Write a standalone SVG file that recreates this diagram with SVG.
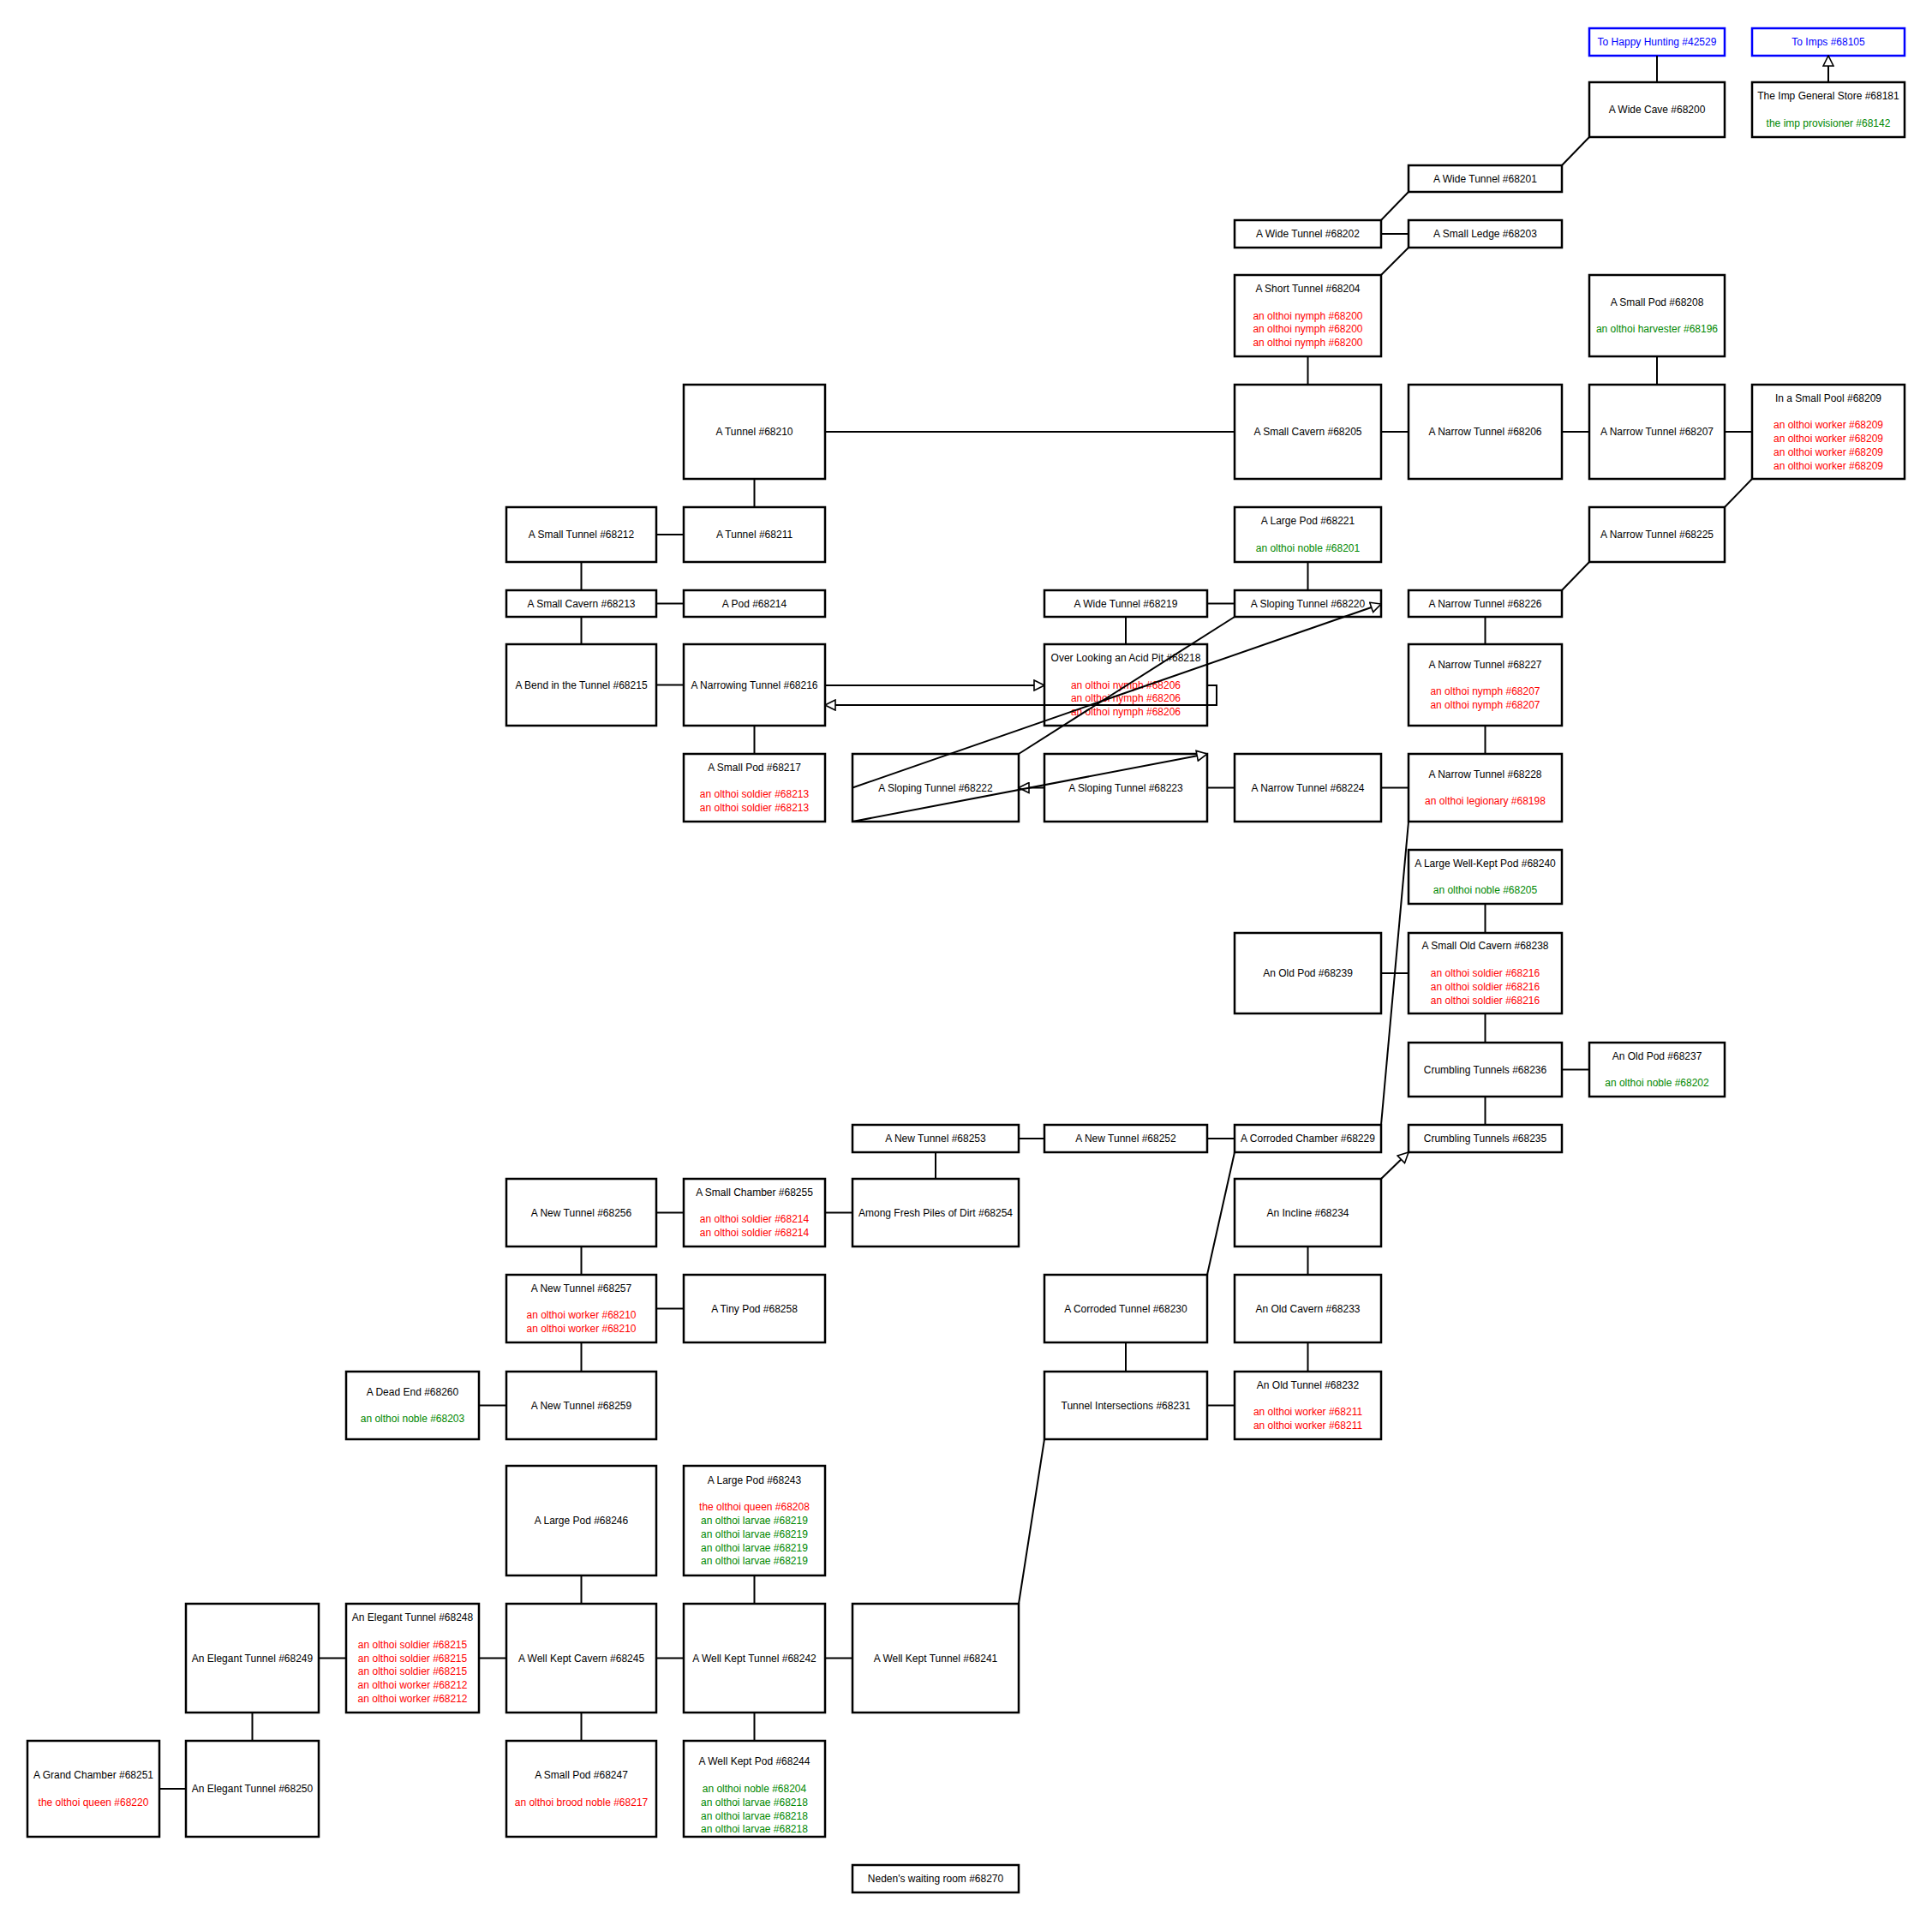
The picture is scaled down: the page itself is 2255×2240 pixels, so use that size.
<svg xmlns="http://www.w3.org/2000/svg" width="2255" height="2240" viewBox="0 0 2255 2240">
<style>
rect{fill:#fff;stroke:#000;stroke-width:2.5}
.b rect{stroke:#00f}
text{font-family:"Liberation Sans",Arial,sans-serif;font-size:12px;text-anchor:middle;dominant-baseline:central;fill:#000}
.b text{fill:#00f}
.r{fill:#f00}
.g{fill:#080}
#conn path{fill:none;stroke:#000;stroke-width:2}
</style>
<defs>
<marker id="a" markerWidth="14" markerHeight="14" refX="13" refY="7" orient="auto" markerUnits="userSpaceOnUse"><path d="M1,1 L13,7 L1,13 Z" fill="#fff" stroke="#000" stroke-width="1.6"/></marker>
</defs>
<rect x="0" y="0" width="2255" height="2240" style="stroke:none"/>
<g id="n42529" class="b"><rect x="1855" y="33" width="158" height="32"/><text x="1934" y="49">To Happy Hunting #42529</text></g>
<g id="n68105" class="b"><rect x="2045" y="33" width="178" height="32"/><text x="2134" y="49">To Imps #68105</text></g>
<g id="n68200"><rect x="1855" y="96" width="158" height="64"/><text x="1934" y="128">A Wide Cave #68200</text></g>
<g id="n68181"><rect x="2045" y="96" width="178" height="64"/><text x="2134" y="112.2">The Imp General Store #68181</text><text class="g" x="2134" y="143.8">the imp provisioner #68142</text></g>
<g id="n68201"><rect x="1644" y="193" width="179" height="31"/><text x="1733.5" y="208.5">A Wide Tunnel #68201</text></g>
<g id="n68202"><rect x="1441" y="257" width="171" height="32"/><text x="1526.5" y="273">A Wide Tunnel #68202</text></g>
<g id="n68203"><rect x="1644" y="257" width="179" height="32"/><text x="1733.5" y="273">A Small Ledge #68203</text></g>
<g id="n68204"><rect x="1441" y="321" width="171" height="95"/><text x="1526.5" y="336.9">A Short Tunnel #68204</text><text class="r" x="1526.5" y="368.5">an olthoi nymph #68200</text><text class="r" x="1526.5" y="384.3">an olthoi nymph #68200</text><text class="r" x="1526.5" y="400.1">an olthoi nymph #68200</text></g>
<g id="n68208"><rect x="1855" y="321" width="158" height="95"/><text x="1934" y="352.7">A Small Pod #68208</text><text class="g" x="1934" y="384.3">an olthoi harvester #68196</text></g>
<g id="n68210"><rect x="798" y="449" width="165" height="110"/><text x="880.5" y="504">A Tunnel #68210</text></g>
<g id="n68205"><rect x="1441" y="449" width="171" height="110"/><text x="1526.5" y="504">A Small Cavern #68205</text></g>
<g id="n68206"><rect x="1644" y="449" width="179" height="110"/><text x="1733.5" y="504">A Narrow Tunnel #68206</text></g>
<g id="n68207"><rect x="1855" y="449" width="158" height="110"/><text x="1934" y="504">A Narrow Tunnel #68207</text></g>
<g id="n68209"><rect x="2045" y="449" width="178" height="110"/><text x="2134" y="464.5">In a Small Pool #68209</text><text class="r" x="2134" y="496.1">an olthoi worker #68209</text><text class="r" x="2134" y="511.9">an olthoi worker #68209</text><text class="r" x="2134" y="527.7">an olthoi worker #68209</text><text class="r" x="2134" y="543.5">an olthoi worker #68209</text></g>
<g id="n68212"><rect x="591" y="592" width="175" height="64"/><text x="678.5" y="624">A Small Tunnel #68212</text></g>
<g id="n68211"><rect x="798" y="592" width="165" height="64"/><text x="880.5" y="624">A Tunnel #68211</text></g>
<g id="n68221"><rect x="1441" y="592" width="171" height="64"/><text x="1526.5" y="608.2">A Large Pod #68221</text><text class="g" x="1526.5" y="639.8">an olthoi noble #68201</text></g>
<g id="n68225"><rect x="1855" y="592" width="158" height="64"/><text x="1934" y="624">A Narrow Tunnel #68225</text></g>
<g id="n68213"><rect x="591" y="689" width="175" height="31"/><text x="678.5" y="704.5">A Small Cavern #68213</text></g>
<g id="n68214"><rect x="798" y="689" width="165" height="31"/><text x="880.5" y="704.5">A Pod #68214</text></g>
<g id="n68219"><rect x="1219" y="689" width="190" height="31"/><text x="1314" y="704.5">A Wide Tunnel #68219</text></g>
<g id="n68220"><rect x="1441" y="689" width="171" height="31"/><text x="1526.5" y="704.5">A Sloping Tunnel #68220</text></g>
<g id="n68226"><rect x="1644" y="689" width="179" height="31"/><text x="1733.5" y="704.5">A Narrow Tunnel #68226</text></g>
<g id="n68215"><rect x="591" y="752" width="175" height="95"/><text x="678.5" y="799.5">A Bend in the Tunnel #68215</text></g>
<g id="n68216"><rect x="798" y="752" width="165" height="95"/><text x="880.5" y="799.5">A Narrowing Tunnel #68216</text></g>
<g id="n68218"><rect x="1219" y="752" width="190" height="95"/><text x="1314" y="767.9">Over Looking an Acid Pit #68218</text><text class="r" x="1314" y="799.5">an olthoi nymph #68206</text><text class="r" x="1314" y="815.3">an olthoi nymph #68206</text><text class="r" x="1314" y="831.1">an olthoi nymph #68206</text></g>
<g id="n68227"><rect x="1644" y="752" width="179" height="95"/><text x="1733.5" y="775.8">A Narrow Tunnel #68227</text><text class="r" x="1733.5" y="807.4">an olthoi nymph #68207</text><text class="r" x="1733.5" y="823.2">an olthoi nymph #68207</text></g>
<g id="n68217"><rect x="798" y="880" width="165" height="79"/><text x="880.5" y="895.8">A Small Pod #68217</text><text class="r" x="880.5" y="927.4">an olthoi soldier #68213</text><text class="r" x="880.5" y="943.2">an olthoi soldier #68213</text></g>
<g id="n68222"><rect x="995" y="880" width="194" height="79"/><text x="1092" y="919.5">A Sloping Tunnel #68222</text></g>
<g id="n68223"><rect x="1219" y="880" width="190" height="79"/><text x="1314" y="919.5">A Sloping Tunnel #68223</text></g>
<g id="n68224"><rect x="1441" y="880" width="171" height="79"/><text x="1526.5" y="919.5">A Narrow Tunnel #68224</text></g>
<g id="n68228"><rect x="1644" y="880" width="179" height="79"/><text x="1733.5" y="903.7">A Narrow Tunnel #68228</text><text class="r" x="1733.5" y="935.3">an olthoi legionary #68198</text></g>
<g id="n68240"><rect x="1644" y="992" width="179" height="63"/><text x="1733.5" y="1007.7">A Large Well-Kept Pod #68240</text><text class="g" x="1733.5" y="1039.3">an olthoi noble #68205</text></g>
<g id="n68239"><rect x="1441" y="1089" width="171" height="94"/><text x="1526.5" y="1136">An Old Pod #68239</text></g>
<g id="n68238"><rect x="1644" y="1089" width="179" height="94"/><text x="1733.5" y="1104.4">A Small Old Cavern #68238</text><text class="r" x="1733.5" y="1136">an olthoi soldier #68216</text><text class="r" x="1733.5" y="1151.8">an olthoi soldier #68216</text><text class="r" x="1733.5" y="1167.6">an olthoi soldier #68216</text></g>
<g id="n68236"><rect x="1644" y="1217" width="179" height="63"/><text x="1733.5" y="1248.5">Crumbling Tunnels #68236</text></g>
<g id="n68237"><rect x="1855" y="1217" width="158" height="63"/><text x="1934" y="1232.7">An Old Pod #68237</text><text class="g" x="1934" y="1264.3">an olthoi noble #68202</text></g>
<g id="n68253"><rect x="995" y="1313" width="194" height="32"/><text x="1092" y="1329">A New Tunnel #68253</text></g>
<g id="n68252"><rect x="1219" y="1313" width="190" height="32"/><text x="1314" y="1329">A New Tunnel #68252</text></g>
<g id="n68229"><rect x="1441" y="1313" width="171" height="32"/><text x="1526.5" y="1329">A Corroded Chamber #68229</text></g>
<g id="n68235"><rect x="1644" y="1313" width="179" height="32"/><text x="1733.5" y="1329">Crumbling Tunnels #68235</text></g>
<g id="n68256"><rect x="591" y="1376" width="175" height="79"/><text x="678.5" y="1415.5">A New Tunnel #68256</text></g>
<g id="n68255"><rect x="798" y="1376" width="165" height="79"/><text x="880.5" y="1391.8">A Small Chamber #68255</text><text class="r" x="880.5" y="1423.4">an olthoi soldier #68214</text><text class="r" x="880.5" y="1439.2">an olthoi soldier #68214</text></g>
<g id="n68254"><rect x="995" y="1376" width="194" height="79"/><text x="1092" y="1415.5">Among Fresh Piles of Dirt #68254</text></g>
<g id="n68234"><rect x="1441" y="1376" width="171" height="79"/><text x="1526.5" y="1415.5">An Incline #68234</text></g>
<g id="n68257"><rect x="591" y="1488" width="175" height="79"/><text x="678.5" y="1503.8">A New Tunnel #68257</text><text class="r" x="678.5" y="1535.4">an olthoi worker #68210</text><text class="r" x="678.5" y="1551.2">an olthoi worker #68210</text></g>
<g id="n68258"><rect x="798" y="1488" width="165" height="79"/><text x="880.5" y="1527.5">A Tiny Pod #68258</text></g>
<g id="n68230"><rect x="1219" y="1488" width="190" height="79"/><text x="1314" y="1527.5">A Corroded Tunnel #68230</text></g>
<g id="n68233"><rect x="1441" y="1488" width="171" height="79"/><text x="1526.5" y="1527.5">An Old Cavern #68233</text></g>
<g id="n68260"><rect x="404" y="1601" width="155" height="79"/><text x="481.5" y="1624.7">A Dead End #68260</text><text class="g" x="481.5" y="1656.3">an olthoi noble #68203</text></g>
<g id="n68259"><rect x="591" y="1601" width="175" height="79"/><text x="678.5" y="1640.5">A New Tunnel #68259</text></g>
<g id="n68231"><rect x="1219" y="1601" width="190" height="79"/><text x="1314" y="1640.5">Tunnel Intersections #68231</text></g>
<g id="n68232"><rect x="1441" y="1601" width="171" height="79"/><text x="1526.5" y="1616.8">An Old Tunnel #68232</text><text class="r" x="1526.5" y="1648.4">an olthoi worker #68211</text><text class="r" x="1526.5" y="1664.2">an olthoi worker #68211</text></g>
<g id="n68246"><rect x="591" y="1711" width="175" height="128"/><text x="678.5" y="1775">A Large Pod #68246</text></g>
<g id="n68243"><rect x="798" y="1711" width="165" height="128"/><text x="880.5" y="1727.6">A Large Pod #68243</text><text class="r" x="880.5" y="1759.2">the olthoi queen #68208</text><text class="g" x="880.5" y="1775">an olthoi larvae #68219</text><text class="g" x="880.5" y="1790.8">an olthoi larvae #68219</text><text class="g" x="880.5" y="1806.6">an olthoi larvae #68219</text><text class="g" x="880.5" y="1822.4">an olthoi larvae #68219</text></g>
<g id="n68249"><rect x="217" y="1872" width="155" height="127"/><text x="294.5" y="1935.5">An Elegant Tunnel #68249</text></g>
<g id="n68248"><rect x="404" y="1872" width="155" height="127"/><text x="481.5" y="1888.1">An Elegant Tunnel #68248</text><text class="r" x="481.5" y="1919.7">an olthoi soldier #68215</text><text class="r" x="481.5" y="1935.5">an olthoi soldier #68215</text><text class="r" x="481.5" y="1951.3">an olthoi soldier #68215</text><text class="r" x="481.5" y="1967.1">an olthoi worker #68212</text><text class="r" x="481.5" y="1982.9">an olthoi worker #68212</text></g>
<g id="n68245"><rect x="591" y="1872" width="175" height="127"/><text x="678.5" y="1935.5">A Well Kept Cavern #68245</text></g>
<g id="n68242"><rect x="798" y="1872" width="165" height="127"/><text x="880.5" y="1935.5">A Well Kept Tunnel #68242</text></g>
<g id="n68241"><rect x="995" y="1872" width="194" height="127"/><text x="1092" y="1935.5">A Well Kept Tunnel #68241</text></g>
<g id="n68251"><rect x="32" y="2032" width="154" height="112"/><text x="109" y="2072.2">A Grand Chamber #68251</text><text class="r" x="109" y="2103.8">the olthoi queen #68220</text></g>
<g id="n68250"><rect x="217" y="2032" width="155" height="112"/><text x="294.5" y="2088">An Elegant Tunnel #68250</text></g>
<g id="n68247"><rect x="591" y="2032" width="175" height="112"/><text x="678.5" y="2072.2">A Small Pod #68247</text><text class="r" x="678.5" y="2103.8">an olthoi brood noble #68217</text></g>
<g id="n68244"><rect x="798" y="2032" width="165" height="112"/><text x="880.5" y="2056.4">A Well Kept Pod #68244</text><text class="g" x="880.5" y="2088">an olthoi noble #68204</text><text class="g" x="880.5" y="2103.8">an olthoi larvae #68218</text><text class="g" x="880.5" y="2119.6">an olthoi larvae #68218</text><text class="g" x="880.5" y="2135.4">an olthoi larvae #68218</text></g>
<g id="n68270"><rect x="995" y="2177" width="194" height="32"/><text x="1092" y="2193">Neden's waiting room #68270</text></g>
<g id="conn">
<path d="M1934,65V96"/>
<path d="M2134,96V65" marker-end="url(#a)"/>
<path d="M1855,160L1823,193"/>
<path d="M1644,224L1612,257"/>
<path d="M1612,273H1644"/>
<path d="M1644,289L1612,321"/>
<path d="M1526.5,416V449"/>
<path d="M963,504H1441"/>
<path d="M1612,504H1644M1823,504H1855M2013,504H2045"/>
<path d="M1934,416V449"/>
<path d="M2045,559L2013,592"/>
<path d="M1855,656L1823,689"/>
<path d="M1733.5,720V752M1733.5,847V880"/>
<path d="M1644,919.5H1612M1441,919.5H1409"/>
<path d="M1219,919.5H1189" marker-end="url(#a)"/>
<path d="M995,959L1409,880" marker-end="url(#a)"/>
<path d="M995,919.5L1612,705" marker-end="url(#a)"/>
<path d="M1189,880L1441,720"/>
<path d="M963,800H1219" marker-end="url(#a)"/>
<path d="M1409,800H1420V823H963" marker-end="url(#a)"/>
<path d="M880.5,847V880"/>
<path d="M1314,720V752"/>
<path d="M1409,704.5H1441"/>
<path d="M1526.5,656V689"/>
<path d="M766,704.5H798"/>
<path d="M678.5,656V689M678.5,720V752"/>
<path d="M766,624H798"/>
<path d="M880.5,559V592"/>
<path d="M766,799.5H798"/>
<path d="M1644,959L1612,1313"/>
<path d="M1733.5,1055V1089"/>
<path d="M1612,1136H1644"/>
<path d="M1733.5,1183V1217"/>
<path d="M1823,1248.5H1855"/>
<path d="M1733.5,1280V1313"/>
<path d="M1612,1376L1644,1345" marker-end="url(#a)"/>
<path d="M1526.5,1455V1488M1526.5,1567V1601"/>
<path d="M1441,1640.5H1409"/>
<path d="M1314,1601V1567"/>
<path d="M1409,1488L1441,1345"/>
<path d="M1441,1329H1409M1219,1329H1189"/>
<path d="M1092,1345V1376"/>
<path d="M995,1415.5H963M798,1415.5H766"/>
<path d="M678.5,1455V1488"/>
<path d="M766,1527.5H798"/>
<path d="M678.5,1567V1601"/>
<path d="M591,1640.5H559"/>
<path d="M1219,1680L1189,1872"/>
<path d="M995,1935.5H963M798,1935.5H766M591,1935.5H559M404,1935.5H372"/>
<path d="M880.5,1839V1872M880.5,1999V2032M678.5,1839V1872M678.5,1999V2032"/>
<path d="M294.5,1999V2032M217,2088H186"/>
</g>
</svg>
